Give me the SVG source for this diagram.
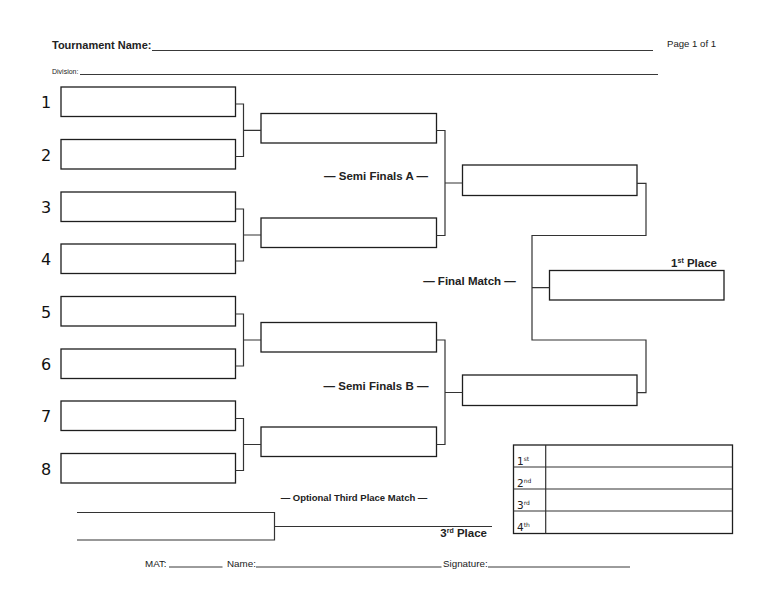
<svg xmlns="http://www.w3.org/2000/svg" width="768" height="594" viewBox="0 0 768 594">
<style>
.box{fill:#fff;stroke:#1e1e1e;stroke-width:1.3}
.ln{fill:none;stroke:#333;stroke-width:1.2}
.ul{stroke:#222;stroke-width:0.9}
.b{font-family:"Liberation Sans",Arial,sans-serif;font-weight:bold;fill:#222}
.r{font-family:"Liberation Sans",Arial,sans-serif;fill:#222}
.seed{font-family:"DejaVu Sans",sans-serif;font-size:16px;fill:#111}
.pl{font-family:"DejaVu Sans",sans-serif;font-size:10.5px;fill:#222}
</style>
<rect width="768" height="594" fill="#fff"/>
<g id="header">
<text class="b" x="52" y="49" font-size="11">Tournament Name:</text>
<line class="ul" x1="152" y1="50.5" x2="653" y2="50.5"/>
<text class="r" x="667" y="46.5" font-size="9.6">Page 1 of 1</text>
<text class="r" x="52" y="74" font-size="7">Division:</text>
<line class="ul" x1="80" y1="74.5" x2="658" y2="74.5"/>
</g>
<g id="seeds">
<g id="seed1"><text class="seed" x="41" y="108">1</text><rect class="box" x="61" y="87" width="174.5" height="29.5"/></g>
<g id="seed2"><text class="seed" x="41" y="161">2</text><rect class="box" x="61" y="139.5" width="174.5" height="29.5"/></g>
<g id="seed3"><text class="seed" x="41" y="213">3</text><rect class="box" x="61" y="192" width="174.5" height="29.5"/></g>
<g id="seed4"><text class="seed" x="41" y="265">4</text><rect class="box" x="61" y="244" width="174.5" height="29.5"/></g>
<g id="seed5"><text class="seed" x="41" y="317.5">5</text><rect class="box" x="61" y="296.5" width="174.5" height="29.5"/></g>
<g id="seed6"><text class="seed" x="41" y="370">6</text><rect class="box" x="61" y="349" width="174.5" height="29.5"/></g>
<g id="seed7"><text class="seed" x="41" y="422">7</text><rect class="box" x="61" y="401" width="174.5" height="29.5"/></g>
<g id="seed8"><text class="seed" x="41" y="474.5">8</text><rect class="box" x="61" y="453.5" width="174.5" height="29.5"/></g>
</g>
<g id="round2">
<rect id="r2a1" class="box" x="261" y="113.5" width="175.5" height="29.5"/>
<rect id="r2a2" class="box" x="261" y="218" width="175.5" height="29.5"/>
<rect id="r2b1" class="box" x="261" y="322.5" width="175.5" height="29.5"/>
<rect id="r2b2" class="box" x="261" y="427" width="175.5" height="29.5"/>
</g>
<g id="semis">
<rect id="sfA" class="box" x="462.5" y="165" width="174.5" height="30.5"/>
<text class="b" x="376" y="180" font-size="11.5" text-anchor="middle">— Semi Finals A —</text>
<rect id="sfB" class="box" x="462.5" y="375" width="174.5" height="30.5"/>
<text class="b" x="376" y="389.5" font-size="11.5" text-anchor="middle">— Semi Finals B —</text>
</g>
<g id="final">
<rect id="finalBox" class="box" x="549.5" y="270.5" width="174.5" height="29.5"/>
<text class="b" x="469.5" y="284.5" font-size="11.5" text-anchor="middle">— Final Match —</text>
<text class="b" x="717" y="267" font-size="11.5" text-anchor="end">1<tspan font-size="7" dy="-4">st</tspan><tspan dy="4"> Place</tspan></text>
</g>
<g id="third">
<text class="b" x="354" y="500.5" font-size="9.5" text-anchor="middle">— Optional Third Place Match —</text>
<path class="ln" d="M77 512.5H274.5V540H77M274.5 526.5H492"/>
<text class="b" x="487" y="536.5" font-size="11.5" text-anchor="end">3<tspan font-size="7" dy="-4">rd</tspan><tspan dy="4"> Place</tspan></text>
</g>
<g id="connectors">
<path class="ln" d="M235.5 104H243.5V156.5H235.5M243.5 130.3H261"/>
<path class="ln" d="M235.5 209H243.5V261H235.5M243.5 235H261"/>
<path class="ln" d="M235.5 314H243.5V366H235.5M243.5 340H261"/>
<path class="ln" d="M235.5 418.5H243.5V470.5H235.5M243.5 444.5H261"/>
<path class="ln" d="M436.5 130.5H445V235.5H436.5M445 183H462.5"/>
<path class="ln" d="M436.5 340H445V444.5H436.5M445 392.5H462.5"/>
<path class="ln" d="M637 183.3H646V235.5H532V340H646V392.7H637M532 287.7H549.5"/>
</g>
<g id="placings">
<rect class="box" x="513.5" y="445" width="219" height="88.5" fill="none"/>
<path class="ln" d="M513.5 467H732.5M513.5 489H732.5M513.5 511H732.5M545.7 445V533.5" stroke="#1e1e1e"/>
<text class="pl" x="517" y="464.5">1<tspan font-size="6" dy="-4">st</tspan></text>
<text class="pl" x="517" y="486.5">2<tspan font-size="6" dy="-4">nd</tspan></text>
<text class="pl" x="517" y="508.5">3<tspan font-size="6" dy="-4">rd</tspan></text>
<text class="pl" x="517" y="530.5">4<tspan font-size="6" dy="-4">th</tspan></text>
</g>
<g id="footer">
<text class="r" x="145" y="566.5" font-size="9.8">MAT:</text>
<line class="ul" x1="169" y1="567" x2="222.5" y2="567"/>
<text class="r" x="227" y="566.5" font-size="9.8">Name:</text>
<line class="ul" x1="256" y1="567" x2="441.5" y2="567"/>
<text class="r" x="443" y="566.5" font-size="9.8">Signature:</text>
<line class="ul" x1="488" y1="567" x2="630" y2="567"/>
</g>
</svg>
